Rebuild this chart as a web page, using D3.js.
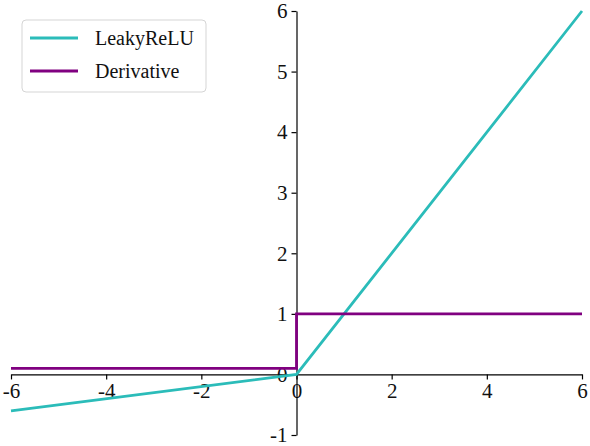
<!DOCTYPE html>
<html>
<head>
<meta charset="utf-8">
<script src="https://cdn.jsdelivr.net/npm/d3@7"></script>
<style>
  body { margin: 0; background: #fff; }
  text { font-family: "Liberation Serif", "DejaVu Serif", serif; }
</style>
</head>
<body>
<script>
// chart values
var xTicks = [-6, -4, -2, 0, 2, 4, 6];
var yTicks = [-1, 0, 1, 2, 3, 4, 5, 6];
var reluX = [-6, 0, 6];
var reluY = [-0.6, 0, 6];
var derivX = [-6, 0, 0, 6];
var derivY = [0.1, 0.1, 1, 1];
var seriesNames = ["LeakyReLU", "Derivative"];
var seriesColors = ["#2bbcb9", "#800080"];

var svgWidth = 590, svgHeight = 446;
var serif = "'Liberation Serif', 'Times New Roman', serif";

var svg = d3.select("body").append("svg")
  .attr("width", svgWidth)
  .attr("height", svgHeight);

var xScale = d3.scaleLinear().domain([-6, 6]).range([11, 582]);
var yScale = d3.scaleLinear().domain([-1, 6]).range([435, 11]);

// x axis through y = 0
var xAxis = svg.append("g")
  .attr("transform", `translate(0, ${yScale(0)})`)
  .call(d3.axisBottom(xScale).tickValues(xTicks).tickSize(5).tickSizeOuter(0));

// y axis through x = 0
var yAxis = svg.append("g")
  .attr("transform", `translate(${xScale(0)}, 0)`)
  .call(d3.axisLeft(yScale).tickValues(yTicks).tickSize(5).tickSizeOuter(0));

[xAxis, yAxis].forEach(function(g) {
  g.attr("font-family", serif).attr("font-size", 21);
  g.select(".domain").attr("stroke", "#000").attr("stroke-width", 1.2);
  g.selectAll(".tick line").attr("stroke", "#000").attr("stroke-width", 1.2);
  g.selectAll(".tick text")
    .attr("fill", "#111")
    .attr("font-family", serif)
    .attr("font-size", 21)
    .text(d => String(d));   // plain hyphen like the original
});
xAxis.selectAll(".tick text").attr("dy", "0.85em").attr("y", 6);
yAxis.selectAll(".tick text").attr("x", -9);

var line = d3.line()
  .x(d => xScale(d[0]))
  .y(d => yScale(d[1]));

svg.append("path")
  .datum(d3.zip(reluX, reluY))
  .attr("d", line)
  .attr("fill", "none")
  .attr("stroke", seriesColors[0])
  .attr("stroke-width", 2.8);

svg.append("path")
  .datum(d3.zip(derivX, derivY))
  .attr("d", line)
  .attr("fill", "none")
  .attr("stroke", seriesColors[1])
  .attr("stroke-width", 2.8);

// legend
var legend = svg.append("g").attr("transform", "translate(22, 20)");
legend.append("rect")
  .attr("width", 184)
  .attr("height", 72)
  .attr("rx", 4)
  .attr("fill", "#fff")
  .attr("fill-opacity", 0.85)
  .attr("stroke", "#d5d5d5")
  .attr("stroke-width", 1);

seriesNames.forEach(function(name, i) {
  var yy = 18 + i * 33;
  legend.append("line")
    .attr("x1", 8).attr("x2", 56)
    .attr("y1", yy).attr("y2", yy)
    .attr("stroke", seriesColors[i])
    .attr("stroke-width", 2.8);
  legend.append("text")
    .attr("x", 73)
    .attr("y", yy)
    .attr("dy", "0.35em")
    .attr("fill", "#111")
    .attr("font-family", serif)
    .attr("font-size", 20)
    .text(name);
});
</script>
</body>
</html>
